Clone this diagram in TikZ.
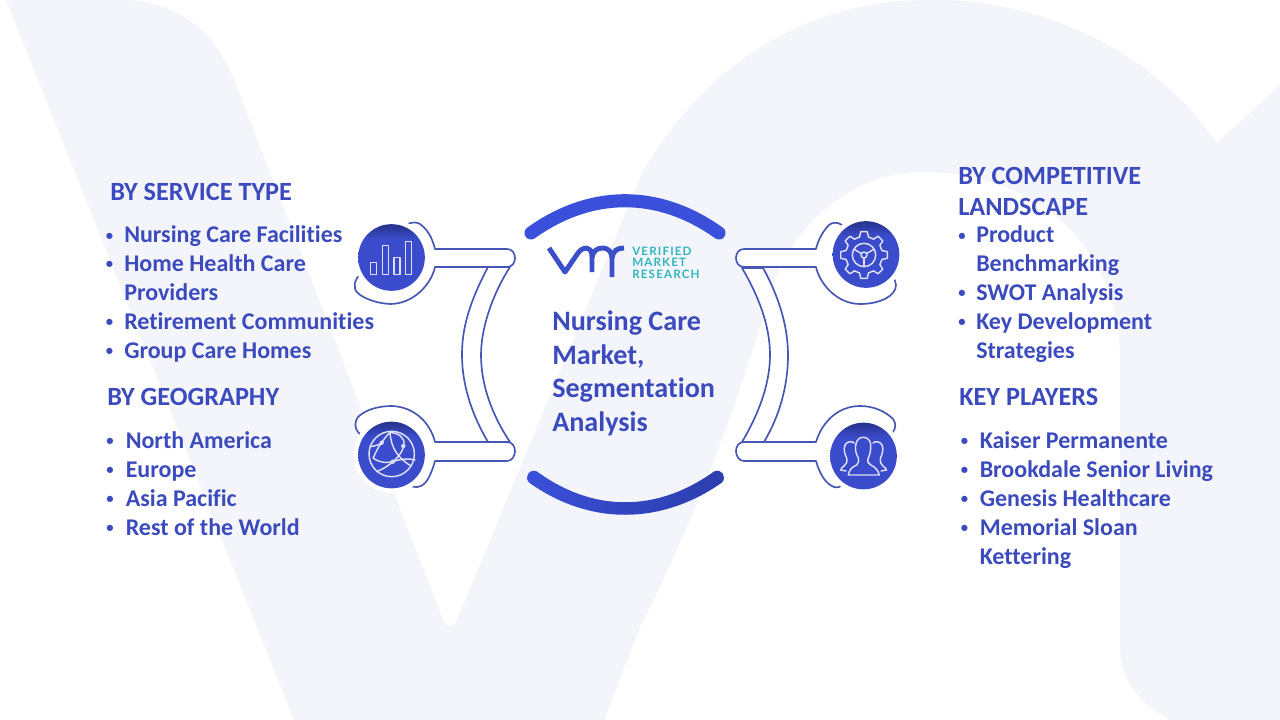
\documentclass[tikz,border=0pt]{standalone}
\usepackage{fontspec}
\setmainfont[Ligatures=NoCommon]{Carlito}
\setsansfont[Ligatures=NoCommon]{Carlito}
\newfontfamily\logofont[LetterSpace=10]{Lato}
\definecolor{pale}{HTML}{F4F5FB}
\definecolor{txt}{HTML}{3B4BBE}
\definecolor{lineblue}{HTML}{4656B6}
\definecolor{disc}{HTML}{3A4CCB}
\definecolor{discd}{HTML}{27348F}
\definecolor{arcblue}{HTML}{3A50DA}
\definecolor{arcdark}{HTML}{2C3EAE}
\definecolor{logob}{HTML}{3A4FC8}
\definecolor{teal}{HTML}{2FB5BE}
\definecolor{iconw}{HTML}{DDE0F6}
\pgfdeclareverticalshading{discsh}{100bp}{color(0bp)=(disc); color(25bp)=(disc); color(64bp)=(disc); color(74bp)=(discd); color(100bp)=(discd)}
\tikzset{
 x=0.75pt,y=-0.75pt,
 head/.style={anchor=base west,inner sep=0pt,text=txt,font=\fontsize{19.7pt}{21pt}\selectfont\bfseries},
 item/.style={anchor=base west,inner sep=0pt,text=txt,font=\fontsize{18pt}{20pt}\selectfont\bfseries},
 titl/.style={anchor=base west,inner sep=0pt,text=txt,font=\fontsize{21.1pt}{22pt}\selectfont\bfseries},
 logot/.style={anchor=base west,inner sep=0pt,text=teal,font=\fontsize{8.7pt}{9pt}\logofont\bfseries},
 bul/.style={anchor=base,inner sep=0pt,yshift=1.6pt,text=txt,font=\fontsize{11pt}{12pt}\selectfont\bfseries},
 outl/.style={draw=lineblue,line width=1.25pt,fill=white,line join=round},
 disc/.style={circle,inner sep=0pt,minimum size=50pt,shading=discsh},
 ico/.style={draw=iconw,line width=1.1pt,line join=round,line cap=round},
 bigarc/.style={line width=9.8pt,line cap=round},
}
\begin{document}
\begin{tikzpicture}
\useasboundingbox (0,0) rectangle (1280,720);
\fill[white] (0,0) rectangle (1280,720);
% watermark
\fill[pale] (6,0) -- (130,0) .. controls (190,6) and (218,40) .. (235,82)
 -- (443,620) .. controls (446,628) and (454,628) .. (457,620)
 .. controls (490,540) and (590,300) .. (640,177)
 .. controls (675,115) and (745,25) .. (880,3) .. controls (905,0) and (930,0) .. (946,0)
 .. controls (1060,5) and (1160,60) .. (1217,143)
 -- (1280,85) -- (1280,720) -- (1170,720)
 .. controls (1135,700) and (1120,680) .. (1120,643)
 -- (1120,360) .. controls (1120,250) and (1040,172) .. (922,172)
 .. controls (860,172) and (800,215) .. (775,280)
 .. controls (755,340) and (720,470) .. (640,627)
 -- (604,720) -- (294,720) -- cycle;
% arcs
\draw[bigarc,arcblue] (531,233) .. controls (591,190) and (659,190) .. (719,233);
\shade[left color=arcblue,right color=arcdark,middle color=arcdark!60!arcblue]
 (529,482.5) .. controls (589,525.5) and (661,525.5) .. (722,482.5)
 .. controls (727,477) and (722,468) .. (714,471.5)
 .. controls (657,512.5) and (593,512.5) .. (537,471.5)
 .. controls (529,468) and (524,477) .. (529,482.5) -- cycle;
% connector bands
\path[outl] (488,267) .. controls (468,305) and (462,330) .. (462,355) .. controls (462,385) and (472,415) .. (488,442)
 -- (510,442) .. controls (492,415) and (481,385) .. (481,355) .. controls (481,325) and (495,290) .. (510,267) -- cycle;
\path[outl] (764,442) .. controls (780,415) and (788,385) .. (788,355) .. controls (788,325) and (778,295) .. (763,268)
 -- (742,268) .. controls (758,295) and (770,325) .. (770,355) .. controls (770,385) and (758,415) .. (742,442) -- cycle;
% ring + handle, top left
\path[outl] (435,249) -- (507,249) .. controls (512,249) and (515,253) .. (515,258) .. controls (515,263) and (512,267) .. (507,267) -- (435,267)
 .. controls (431,285) and (413,304) .. (390,304) .. controls (370,303) and (353,293) .. (355,287) .. controls (354,283) and (356,280) .. (357,278)
 -- (408,224) .. controls (412,222) and (417,222) .. (420,224) .. controls (427,229) and (432,237) .. (435,249) -- cycle;
% ring + handle, bottom left
\path[outl] (435,442) -- (507,442) .. controls (512,442) and (515,446) .. (515,451) .. controls (515,456) and (512,461) .. (507,461) -- (435,461)
 .. controls (431,475) and (427,483) .. (421,486) .. controls (416,488) and (411,487) .. (408,484)
 -- (358,432) .. controls (355,428) and (354,423) .. (358,417) .. controls (366,409) and (380,406) .. (392,406) .. controls (414,407) and (430,422) .. (435,442) -- cycle;
% ring + handle, top right
\path[outl] (816,249) -- (744,249) .. controls (739,249) and (736,253) .. (736,258) .. controls (736,263) and (739,267) .. (744,267) -- (816,267)
 .. controls (820,285) and (838,304) .. (860,304) .. controls (880,304) and (896,296) .. (896,285) .. controls (896,282) and (894,279) .. (893,277)
 -- (842,225) .. controls (838,222) and (832,222) .. (829,225) .. controls (823,231) and (818,240) .. (816,249) -- cycle;
% ring + handle, bottom right
\path[outl] (816,442) -- (744,442) .. controls (739,442) and (736,446) .. (736,451) .. controls (736,456) and (739,461) .. (744,461) -- (816,461)
 .. controls (820,475) and (826,484) .. (834,487) .. controls (838,488) and (841,487) .. (842,484)
 -- (893,432) .. controls (896,428) and (896,423) .. (893,419) .. controls (885,411) and (873,406) .. (860,406) .. controls (838,406) and (822,422) .. (816,442) -- cycle;
% erase closing chords
\fill[white] (391.5,257.5) circle (38);
\fill[white] (391.5,455) circle (38);
\fill[white] (866,254.5) circle (38);
\fill[white] (863.5,456) circle (38);
\node[disc] (d1) at (391.5,257.5) {};
\node[disc] (d2) at (391.5,455) {};
\node[disc] (d3) at (866,254.5) {};
\node[disc] (d4) at (863.5,456) {};
% bars
\draw[ico] (370.7,262.7) rectangle (376.7,274.3);
\draw[ico] (382.3,245.7) rectangle (388.7,274.3);
\draw[ico] (394,257.3) rectangle (400,274.3);
\draw[ico] (405.3,241.7) rectangle (411.7,274.3);
% globe
\draw[ico] (391.7,454) circle (22.7);
\draw[ico] (370,446.7) .. controls (375,446) and (379,445) .. (381.7,442.7) .. controls (384,439) and (387,435) .. (390,432.5);
\draw[ico] (390,432.5) .. controls (391,448) and (398,458) .. (411,466);
\draw[ico] (390,432.5) .. controls (398,433) and (405,437) .. (404,445) .. controls (402,455) and (392,465) .. (376.7,471.7);
\draw[ico] (381.7,442.7) .. controls (376,450) and (375,455) .. (373,458) .. controls (380,463) and (386,463) .. (392.7,461.7) .. controls (400,459) and (408,458) .. (415,460);
\fill[iconw] (381.7,442.7) circle (2.2) (403.3,446) circle (2.2) (392.7,461.7) circle (2.2);
% gear
\begin{scope}[shift={(864,255)}]
\foreach \a in {0,45,...,315}{
 \draw[ico] (\a-14:18.5) -- (\a-8:23.5) -- (\a+8:23.5) -- (\a+14:18.5) -- (\a+31:18.5);
}
\draw[ico] (0,0) circle (11.7);
\draw[ico] (0,0) circle (3);
\foreach \a in {90,210,330}{\draw[ico] (\a:3) -- (\a:11.7);}
\end{scope}
% people
\draw[ico] (848.3,475) .. controls (849,470) and (852,467) .. (856.7,465) .. controls (859,463) and (859,460) .. (858.3,458) .. controls (855,452) and (855,448) .. (856,444) .. controls (857,439) and (860,437.3) .. (863.3,437.3) .. controls (867,437.3) and (870,440) .. (870.7,444) .. controls (871,450) and (870,454) .. (868.3,458) .. controls (867,461) and (868,464) .. (870.7,465) .. controls (875,467) and (878,470) .. (879.3,475) -- cycle;
\draw[ico] (854.3,443) .. controls (852,441) and (847,441) .. (845,445) .. controls (843,449) and (845,455) .. (846.7,458) .. controls (847.5,462) and (846,465) .. (844,466) .. controls (842,467) and (841,469) .. (840.7,470) -- (846,471);
\draw[ico] (873,443) .. controls (875,441) and (880,441) .. (882,445) .. controls (884,449) and (882,455) .. (880.5,458) .. controls (880,462) and (881,465) .. (883,466) .. controls (885,467) and (886,469) .. (886.5,470) -- (881,471);
% logo
\draw[logob,line width=3.7pt,line join=round] (549,248) -- (565,272) -- (578,253) .. controls (582,247) and (592,245) .. (592,256) -- (592,272);
\draw[logob,line width=3.7pt,line join=round] (592,258) .. controls (593,250) and (598,248) .. (603,248) .. controls (608,248) and (612,252) .. (612,258) -- (612,277);
\draw[logob,line width=3.7pt] (612,258) .. controls (613,251) and (617,248) .. (624,248);
\node[logot] (l1) at (632,255.5) {VERIFIED};
\node[logot] (l2) at (632,266.5) {MARKET};
\node[logot] (l3) at (632,278) {RESEARCH};
% center title
\node[titl] (c1) at (552,330) {Nursing Care};
\node[titl] (c2) at (552,364) {Market,};
\node[titl] (c3) at (552,397) {Segmentation};
\node[titl] (c4) at (552,431) {Analysis};
% left column
\node[head] (a0) at (110,200.5) {BY SERVICE TYPE};
\node[bul] (ab1) at (109.5,243) {•};
\node[item] (a1) at (124,243) {Nursing Care Facilities};
\node[bul] (ab2) at (109.5,271) {•};
\node[item] (a2) at (124,271) {Home Health Care};
\node[item] (a3) at (124,300) {Providers};
\node[bul] (ab4) at (109.5,329) {•};
\node[item] (a4) at (124,329) {Retirement Communities};
\node[bul] (ab5) at (109.5,358) {•};
\node[item] (a5) at (124,358) {Group Care Homes};
\node[head] (b0) at (107,405.7) {BY GEOGRAPHY};
\node[bul] (bb1) at (110,448) {•};
\node[item] (b1) at (125.5,448) {North America};
\node[bul] (bb2) at (110,477) {•};
\node[item] (b2) at (125.5,477) {Europe};
\node[bul] (bb3) at (110,506) {•};
\node[item] (b3) at (125.5,506) {Asia Pacific};
\node[bul] (bb4) at (110,535) {•};
\node[item] (b4) at (125.5,535) {Rest of the World};
% right column
\node[head] (e0) at (958,184.2) {BY COMPETITIVE};
\node[head] (e00) at (958,215.7) {LANDSCAPE};
\node[bul] (eb1) at (962,243) {•};
\node[item] (e1) at (976,243) {Product};
\node[item] (e2) at (976,271) {Benchmarking};
\node[bul] (eb3) at (962,300) {•};
\node[item] (e3) at (976,300) {SWOT Analysis};
\node[bul] (eb4) at (962,329) {•};
\node[item] (e4) at (976,329) {Key Development};
\node[item] (e5) at (976,358) {Strategies};
\node[head] (f0) at (959,405.7) {KEY PLAYERS};
\node[bul] (fb1) at (964.5,448) {•};
\node[item] (f1) at (979.5,448) {Kaiser Permanente};
\node[bul] (fb2) at (964.5,477) {•};
\node[item] (f2) at (979.5,477) {Brookdale Senior Living};
\node[bul] (fb3) at (964.5,506) {•};
\node[item] (f3) at (979.5,506) {Genesis Healthcare};
\node[bul] (fb4) at (964.5,535) {•};
\node[item] (f4) at (979.5,535) {Memorial Sloan};
\node[item] (f5) at (979.5,564) {Kettering};
\end{tikzpicture}
\end{document}
